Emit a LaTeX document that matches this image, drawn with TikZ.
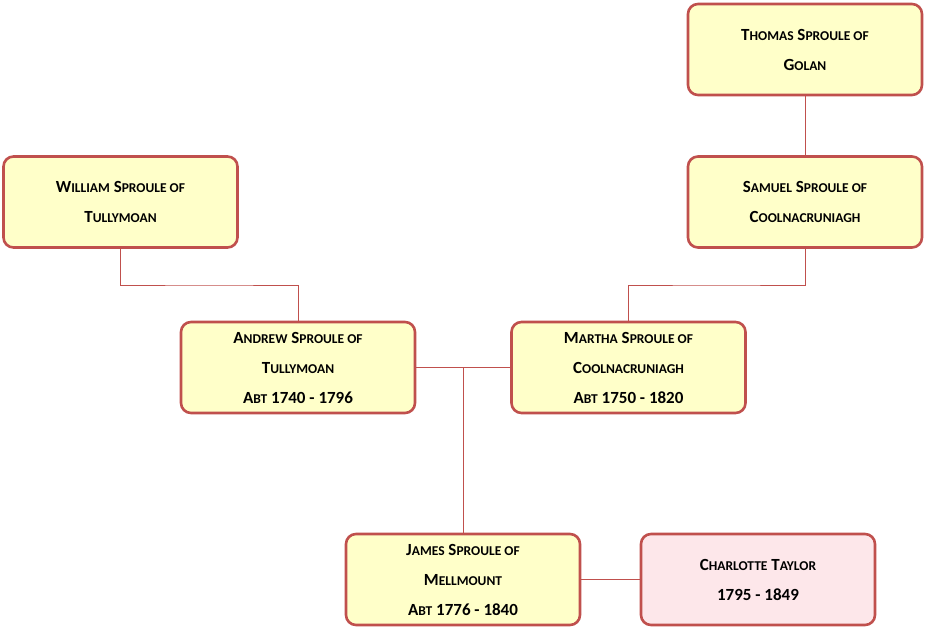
\documentclass[tikz,border=0pt]{standalone}
\usepackage{fontspec}
\setmainfont{Carlito}
\newcommand{\Sc}[2]{{\fontsize{17}{20}\selectfont #1}{\fontsize{13.5}{20}\selectfont #2}}
\tikzset{
 person/.style={draw=boxred, line width=2.6pt, rounded corners=10pt, fill=boxyel, minimum width=234pt, minimum height=91pt, align=center, font=\bfseries\fontsize{17}{30}\selectfont, inner sep=2pt},
 link/.style={draw=boxred, line width=1pt}
}
\definecolor{boxred}{HTML}{C0504D}
\definecolor{boxyel}{HTML}{FFFFC9}
\definecolor{boxpink}{HTML}{FDE7EA}
\begin{document}
\begin{tikzpicture}[x=1pt,y=1pt]
\useasboundingbox (0,0) rectangle (926,641);
\node[person] (thomas) at (805,591.5) {\Sc{T}{HOMAS} \Sc{S}{PROULE OF}\\\Sc{G}{OLAN}};
\node[person] (william) at (120.5,439) {\Sc{W}{ILLIAM} \Sc{S}{PROULE OF}\\\Sc{T}{ULLYMOAN}};
\node[person] (samuel) at (805,439) {\Sc{S}{AMUEL} \Sc{S}{PROULE OF}\\\Sc{C}{OOLNACRUNIAGH}};
\node[person] (andrew) at (298,273.5) {\Sc{A}{NDREW} \Sc{S}{PROULE OF}\\\Sc{T}{ULLYMOAN}\\\Sc{A}{BT} 1740 - 1796};
\node[person] (martha) at (628.5,273.5) {\Sc{M}{ARTHA} \Sc{S}{PROULE OF}\\\Sc{C}{OOLNACRUNIAGH}\\\Sc{A}{BT} 1750 - 1820};
\node[person] (james) at (463,61.5) {\Sc{J}{AMES} \Sc{S}{PROULE OF}\\\Sc{M}{ELLMOUNT}\\\Sc{A}{BT} 1776 - 1840};
\node[person, fill=boxpink] (charlotte) at (758,61.5) {\Sc{C}{HARLOTTE} \Sc{T}{AYLOR}\\1795 - 1849};
\coordinate (mid) at (463,273.5);
\begin{scope}[on background layer/.try]
\draw[link] (thomas.south) -- (samuel.north);
\draw[link] (william.south) |- (209,356) -| (andrew.north);
\draw[link] (samuel.south) |- (716,356) -| (martha.north);
\draw[link] (andrew.east) -- (martha.west);
\draw[link] (mid) -- (james.north);
\draw[link] (james.east) -- (charlotte.west);
\end{scope}
\end{tikzpicture}
\end{document}
